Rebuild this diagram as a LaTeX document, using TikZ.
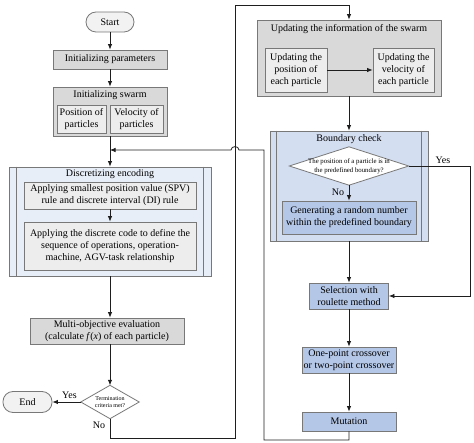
\documentclass[tikz,border=0pt]{standalone}
\usepackage{fontspec}
\setmainfont{Liberation Serif}
\usetikzlibrary{arrows.meta}
\definecolor{bordergray}{RGB}{120,120,120}
\definecolor{boxgray}{RGB}{217,217,217}
\definecolor{lightgray}{RGB}{242,242,242}
\definecolor{innerfill}{RGB}{237,237,237}
\definecolor{discfill}{RGB}{232,238,247}
\definecolor{boundfill}{RGB}{212,222,241}
\definecolor{bluebox}{RGB}{180,199,231}
\definecolor{linecol}{RGB}{30,30,30}
\begin{document}
\begin{tikzpicture}[x=1pt,y=-1pt,
 box/.style={draw=bordergray, line width=0.8pt, align=center, inner sep=0pt, font=\fontsize{10}{12}\selectfont},
 gbox/.style={box, fill=boxgray},
 lbox/.style={box, fill=innerfill},
 bbox/.style={box, fill=bluebox},
 terminal/.style={box, fill=lightgray, rounded corners=10pt},
 txt/.style={inner sep=0pt, align=center, font=\fontsize{10}{12}\selectfont},
 border/.style={draw=bordergray, line width=0.8pt},
 diamondframe/.style={border, fill=white},
 conn/.style={draw=linecol, line width=0.8pt},
 arr/.style={conn, -{Latex[length=5.5pt,width=4.5pt]}},
]
\useasboundingbox (0,0) rectangle (474,443);

% left column
\node[terminal, minimum width=48pt, minimum height=20pt] (start) at (110,22) {Start};
\node[gbox, minimum width=114pt, minimum height=19pt] (initp) at (110,59.5) {Initializing parameters};
\node[gbox, minimum width=114pt, minimum height=49pt] (swarm) at (110,111.5) {};
\node[txt] (swarmt) at (110,95) {Initializing swarm};
\node[lbox, minimum width=49pt, minimum height=28pt] (pos) at (81.5,119) {Position of\\particles};
\node[lbox, minimum width=53pt, minimum height=28pt] (vel) at (136.5,119) {Velocity of\\particles};

\node[box, fill=discfill, minimum width=202pt, minimum height=109pt] (disc) at (110,221.5) {};
\draw[border] ([xshift=8pt]disc.north west) -- ([xshift=8pt]disc.south west);
\draw[border] ([xshift=-8pt]disc.north east) -- ([xshift=-8pt]disc.south east);
\node[txt] (disct) at (110,174) {Discretizing encoding};
\node[lbox, minimum width=172pt, minimum height=27pt] (spv) at (110,195.5) {Applying smallest position value (SPV)\\rule and discrete interval (DI) rule};
\node[lbox, minimum width=172pt, minimum height=48pt] (code) at (110,246) {Applying the discrete code to define the\\sequence of operations, operation-\\machine, AGV-task relationship};

\node[gbox, minimum width=154pt, minimum height=26pt] (multi) at (107,331) {Multi-objective evaluation\\(calculate \textit{f}(\textit{x}) of each particle)};

\node[minimum width=58pt, minimum height=33pt, inner sep=0pt] (termd) at (110,402) {};
\draw[diamondframe] (termd.north) -- (termd.east) -- (termd.south) -- (termd.west) -- cycle;
\node[txt, font=\fontsize{6}{7}\selectfont] (termt) at (termd.center) {Termination\\criteria met?};

\node[terminal, minimum width=49pt, minimum height=21pt] (end) at (27.5,402) {End};

% right column
\node[gbox, minimum width=184pt, minimum height=76pt] (upd) at (349,58) {};
\node[txt] (updt) at (349,29) {Updating the information of the swarm};
\node[lbox, minimum width=62pt, minimum height=44pt] (updpos) at (296,70) {Updating the\\position of\\each particle};
\node[lbox, minimum width=61pt, minimum height=44pt] (updvel) at (403.5,70) {Updating the\\velocity of\\each particle};

\node[box, fill=boundfill, minimum width=158pt, minimum height=110pt] (bound) at (349,186) {};
\draw[border] ([xshift=7pt]bound.north west) -- ([xshift=7pt]bound.south west);
\draw[border] ([xshift=-7pt]bound.north east) -- ([xshift=-7pt]bound.south east);
\node[txt] (boundt) at (349,139) {Boundary check};
\node[minimum width=119pt, minimum height=38pt, inner sep=0pt] (bdiam) at (349,166) {};
\draw[diamondframe] (bdiam.north) -- (bdiam.east) -- (bdiam.south) -- (bdiam.west) -- cycle;
\node[txt, font=\fontsize{6.8}{9}\selectfont] (bdiamt) at (bdiam.center) {The position of a particle is in\\the predefined boundary?};
\node[bbox, minimum width=134pt, minimum height=33pt] (gen) at (349,217.5) {Generating a random number\\within the predefined boundary};

\node[bbox, minimum width=79pt, minimum height=26pt] (sel) at (349,296) {Selection with\\roulette method};
\node[bbox, minimum width=94pt, minimum height=26pt] (cross) at (349,360) {One-point crossover\\or two-point crossover};
\node[bbox, minimum width=94pt, minimum height=19pt] (mut) at (349,421.5) {Mutation};

% helper coordinates
\coordinate (topL) at (235,5);
\coordinate (botL) at (235,438);
\coordinate (botR) at (264,440);
\coordinate (midR) at (264,150);
\coordinate (jumpA) at (239,150);
\coordinate (jumpB) at (231,150);
\coordinate (merge) at (110,150);
\coordinate (yesR) at (470,166);

% connectors
\draw[arr] (start) -- (initp);
\draw[arr] (initp) -- (swarm);
\draw[arr] (swarm.south) -- (disc.north);
\draw[arr] (spv) -- (code);
\draw[arr] (disc.south) -- (disc.south |- multi.north);
\draw[arr] (termd.north |- multi.south) -- (termd.north);
\draw[arr] (termd.west) -- (end.east);
\node[txt] (yes1) at (69.5,395) {Yes};
\draw[arr] (termd.south) |- (botL) -- (topL) -| (upd.north);
\node[txt] (no1) at (99,425) {No};

\draw[arr] (updpos) -- (updvel);
\draw[arr] (upd.south) -- (bound.north);
\draw[arr] (bdiam.south) -- (gen.north);
\node[txt] (no2) at (338,192) {No};
\draw[arr] (bdiam.east) -- (yesR) |- (sel.east);
\node[txt] (yes2) at (443,160) {Yes};
\draw[arr] (bound.south) -- (sel.north);
\draw[arr] (sel) -- (cross);
\draw[arr] (cross) -- (mut);
\draw[arr] (mut.south) |- (botR) -- (midR) -- (jumpA) .. controls (239,145.5) and (231,145.5) .. (jumpB) -- (merge);
\end{tikzpicture}
\end{document}
